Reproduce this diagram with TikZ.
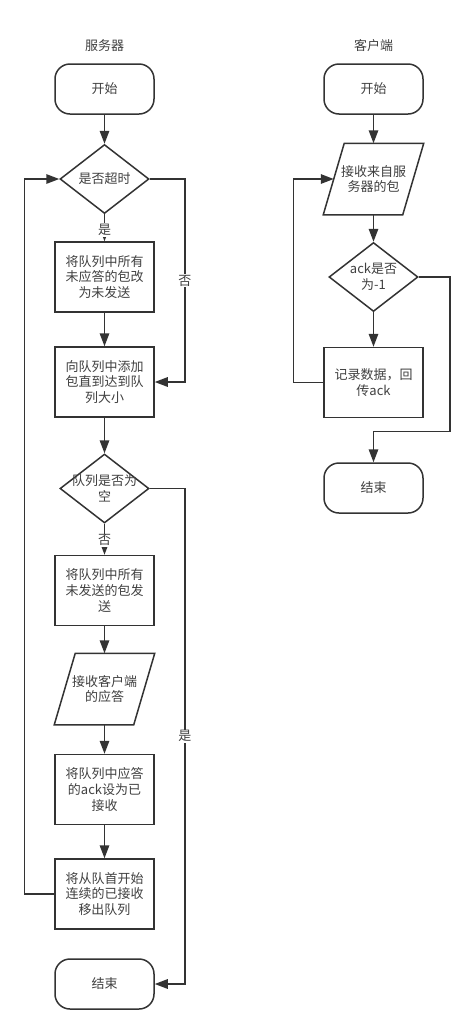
\documentclass[tikz,border=0pt]{standalone}
\usepackage{fontspec}
\setmainfont{Noto Sans CJK SC}
\usetikzlibrary{shapes.geometric,arrows.meta}
\definecolor{ln}{HTML}{333333}
\definecolor{tx}{HTML}{404040}
\begin{document}
\begin{tikzpicture}[x=1pt,y=-1pt,
  line width=1.5pt, color=ln,
  every node/.style={font=\fontsize{13}{15.6}\selectfont, text=tx, align=center},
  term/.style={draw=ln, rounded corners=15pt, minimum width=99pt, minimum height=50pt, inner sep=0pt},
  proc/.style={draw=ln, minimum width=99pt, minimum height=70pt, inner sep=0pt},
  dec/.style={draw=ln, diamond, minimum width=89pt, minimum height=69pt, inner sep=0pt},
  io/.style={minimum width=99pt, minimum height=70pt, inner sep=0pt},
  arr/.style={-{Triangle[length=13pt,width=9.5pt]}},
  lbl/.style={fill=white, inner sep=1pt}]
\useasboundingbox[fill=white] (0,0) rectangle (474,1034);

% ---------- server ----------
\node (ts) at (104.5,46) {服务器};
\node[term] (s1) at (104.5,89) {开始};
\node[dec] (d1) at (104.5,179) {};
\node (d1t) at (d1.center) {是否超时};
\node[proc] (b1) at (104.5,277) {将队列中所有\\未应答的包改\\为未发送};
\node[proc] (b2) at (104.5,382) {向队列中添加\\包直到达到队\\列大小};
\node[dec] (d2) at (104.5,488.5) {};
\node (d2t) at (d2.center) {队列是否为\\空};
\node[proc] (b3) at (104.5,590.5) {将队列中所有\\未发送的包发\\送};
\node[io] (p1) at (104.5,689) {接收客户端\\的应答};
\draw ([xshift=21pt]p1.north west) -- (p1.north east) -- ([xshift=-21pt]p1.south east) -- (p1.south west) -- cycle;
\node[proc] (b4) at (104.5,789.5) {将队列中应答\\的ack设为已\\接收};
\node[proc] (b5) at (104.5,894) {将从队首开始\\连续的已接收\\移出队列};
\node[term] (e1) at (104.5,984) {结束};

\draw[arr] (s1) -- (d1);
\draw[arr] (d1) -- (b1) node[lbl,pos=0.58] {是};
\draw[arr] (b1) -- (b2);
\draw[arr] (d1.east) -| ([xshift=30pt]b2.east) node[lbl,pos=0.75] {否} -- (b2.east);
\draw[arr] (b2) -- (d2);
\draw[arr] (d2) -- (b3) node[lbl,pos=0.53] {否};
\draw[arr] (b3) -- (p1);
\draw[arr] (p1) -- (b4);
\draw[arr] (b4) -- (b5);
\draw[arr] (d2.east) -| ([xshift=30pt]e1.east) node[lbl,pos=0.75] {是} -- (e1.east);
\draw[arr] (b5.west) -- ++(-30,0) |- (d1.west);

% ---------- client ----------
\node (tc) at (373.5,46) {客户端};
\node[term] (s2) at (373.5,89) {开始};
\node[io] (p2) at (373.5,179) {接收来自服\\务器的包};
\draw ([xshift=21pt]p2.north west) -- (p2.north east) -- ([xshift=-21pt]p2.south east) -- (p2.south west) -- cycle;
\node[dec] (d3) at (373.5,277) {};
\node (d3t) at (d3.center) {ack是否\\为-1};
\node[proc] (b6) at (373.5,382.5) {记录数据，回\\传ack};
\node[term] (e2) at (373.5,488) {结束};

\draw[arr] (s2) -- (p2);
\draw[arr] (p2) -- (d3);
\draw[arr] (d3) -- (b6);
\draw[arr] (b6.west) -- ++(-30,0) |- ([xshift=10.5pt]p2.west);
\draw[arr] (d3.east) -- ++(31,0) |- ([yshift=31pt]e2.north) -- (e2.north);
\end{tikzpicture}
\end{document}
